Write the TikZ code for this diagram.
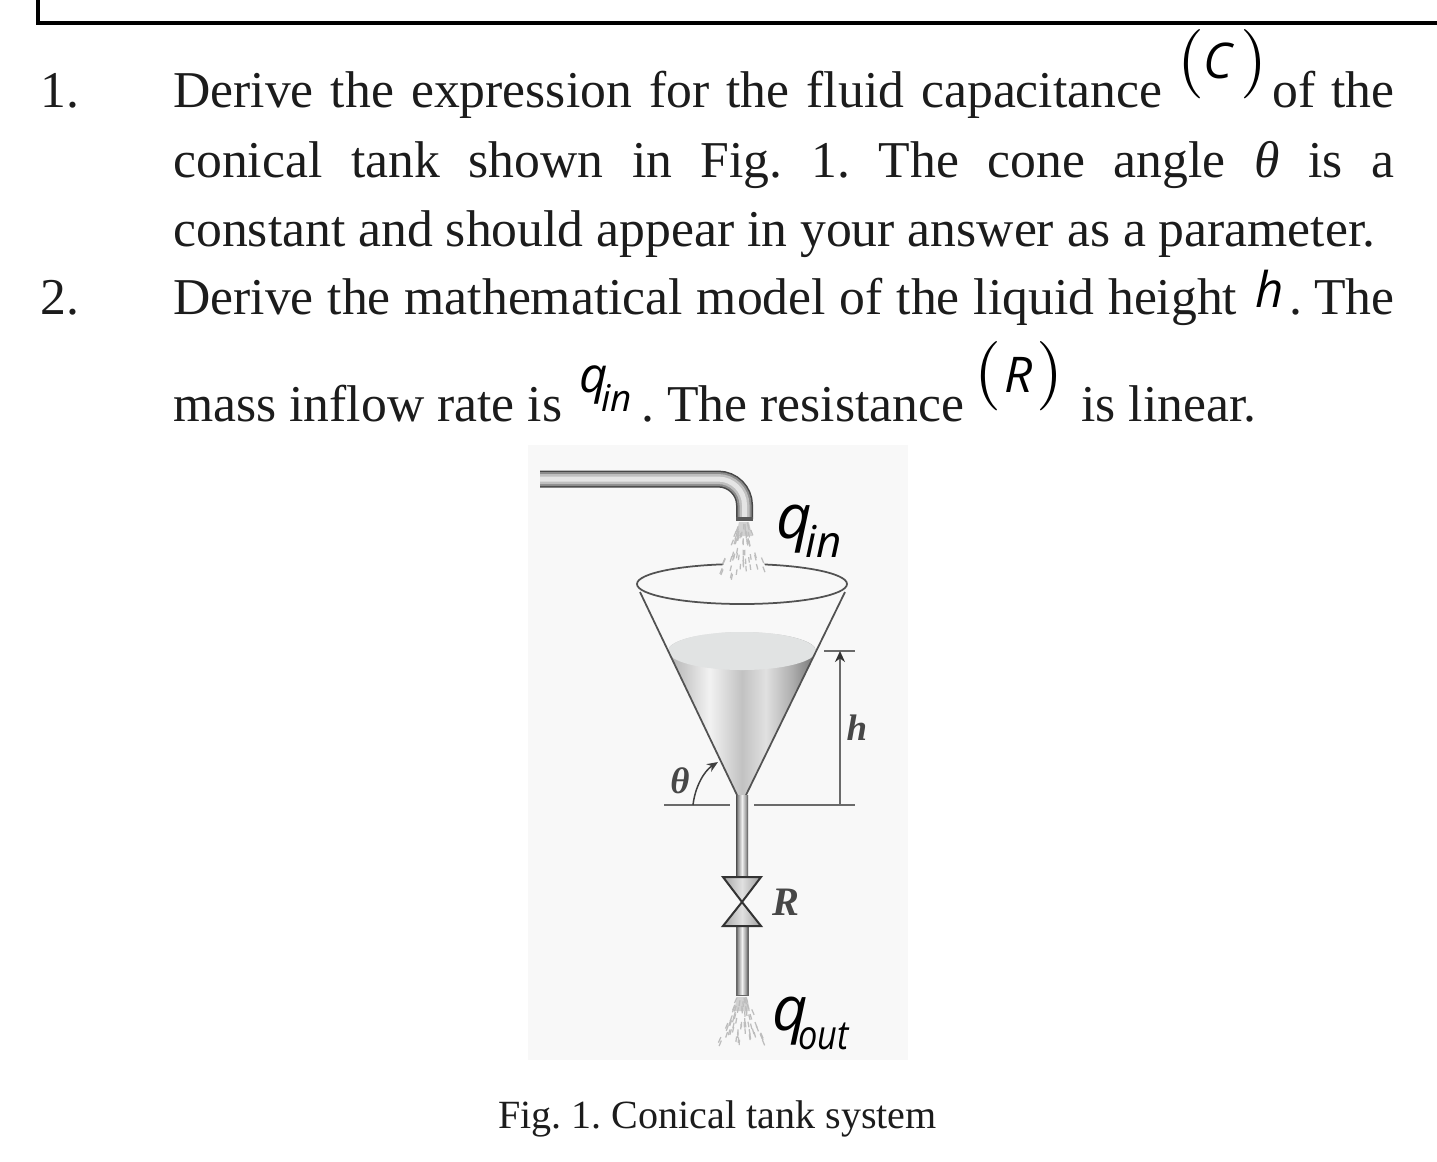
\documentclass[tikz,border=0pt]{standalone}
\usepackage{fontspec}
\setmainfont{Liberation Serif}
\newfontfamily\symfont{Open Sans}
\usetikzlibrary{arrows.meta}
\frenchspacing

\definecolor{inkblack}{HTML}{1C1C1C}
\definecolor{panelgray}{HTML}{F8F8F8}
\definecolor{surfacegray}{HTML}{E1E3E3}
\definecolor{dimgray}{HTML}{6A6A6A}

\pgfdeclarehorizontalshading{liquidshade}{100bp}{
  color(0bp)=(black!30); color(25bp)=(black!30); color(31bp)=(black!20);
  color(39bp)=(black!5); color(50bp)=(black!24); color(58bp)=(black!12);
  color(67bp)=(black!32); color(75bp)=(black!55); color(100bp)=(black!55)}
\pgfdeclarehorizontalshading{stemshade}{100bp}{
  color(0bp)=(black!70); color(25bp)=(black!70); color(33bp)=(black!42);
  color(50bp)=(black!6); color(66bp)=(black!38); color(75bp)=(black!70);
  color(100bp)=(black!70)}
\pgfdeclarehorizontalshading{valveshade}{100bp}{
  color(0bp)=(black!35); color(25bp)=(black!35); color(50bp)=(black!12);
  color(75bp)=(black!38); color(100bp)=(black!38)}

\newcommand{\bigparen}[1]{\resizebox{!}{1.04cm}{$#1$}}

\tikzset{
  bodytext/.style={anchor=base west, inner sep=0pt, text=inkblack,
    font=\fontsize{29.4}{34}\selectfont},
  symtext/.style={anchor=base west, inner sep=0pt, text=black,
    font=\symfont\itshape\fontsize{28}{34}\selectfont},
  bracket/.style={anchor=center, inner sep=0pt, text=black},
  subtext/.style={anchor=base west, inner sep=0pt, text=black,
    font=\symfont\itshape\fontsize{21}{24}\selectfont},
  figlabel/.style={anchor=base, inner sep=0pt, text=black!72,
    font=\bfseries\itshape\fontsize{21}{26}\selectfont},
  dimline/.style={draw=dimgray, line width=0.05cm},
  tankline/.style={draw=black!68, line width=0.035cm},
  spraydash/.style={draw=black!26, line width=0.025cm}
}

\begin{document}
\begin{tikzpicture}[x=0.02cm, y=-0.02cm]

  \useasboundingbox (0,0) rectangle (1437,1161);

  % frame corner at the top
  \draw[black, line width=0.08cm] (38,0) -- (38,23) -- (1437,23);

  % question text
  \node[bodytext] (numone) at (40,107) {1.};
  \node[bodytext] (lineonea) at (173,107) {\makebox[19.78cm][s]{Derive the expression for the fluid capacitance}};
  \node[bracket] (copen) at (1191,64) {\bigparen{(}};
  \node[symtext] (csym) at (1203,78) {C};
  \node[bracket] (cclose) at (1254,64) {\bigparen{)}};
  \node[bodytext] (lineoneb) at (1272,107) {\makebox[2.44cm][s]{of the}};
  \node[bodytext] (linetwo) at (173,177) {\makebox[24.42cm][s]{conical tank shown in Fig. 1. The cone angle \textit{θ} is a}};
  \node[bodytext] (linethree) at (173,246) {constant and should appear in your answer as a parameter.};
  \node[bodytext] (numtwo) at (40,314) {2.};
  \node[bodytext] (linefoura) at (173,314) {\makebox[21.28cm][s]{Derive the mathematical model of the liquid height}};
  \node[symtext] (hsym) at (1255,307) {h};
  \node[bodytext] (linefourb) at (1289,314) {\makebox[2.1cm][s]{. The}};
  \node[bodytext] (linefivea) at (173,421) {mass inflow rate is};
  \node[symtext] (qsym) at (579,392) {q};
  \node[subtext] (qsub) at (601,411) {in};
  \node[bodytext] (linefiveb) at (641,421) {. The resistance};
  \node[bracket] (ropen) at (988,376) {\bigparen{(}};
  \node[symtext] (rsym) at (1004,392) {R};
  \node[bracket] (rclose) at (1050,376) {\bigparen{)}};
  \node[bodytext] (linefivec) at (1081,421) {is linear.};

  % figure panel
  \fill[panelgray] (528,445) rectangle (908,1060);

  % inlet pipe
  \foreach \w/\c in {17/black!72, 14/black!45, 10/black!25, 5/black!10} {
    \draw[\c, line width=\w*0.02cm] (540,479) -- (718,479)
      .. controls (733,479) and (744.5,491) .. (744.5,505) -- (744.5,519);
  }
  \fill[black!65] (736,517) rectangle (753,521);

  % cone
  \shade[shading=liquidshade] (668,651) arc[start angle=180, end angle=360, x radius=74, y radius=19]
    -- (746,795) -- (737,795) -- cycle;
  \fill[surfacegray] (742,651) ellipse[x radius=74, y radius=19];
  \draw[tankline] (640,592) -- (737,795);
  \draw[tankline] (845,592) -- (746,795);
  \draw[tankline] (742,584) ellipse[x radius=105, y radius=20];

  % outlet pipe and valve
  \shade[shading=stemshade] (736,795) rectangle (748,877);
  \shade[shading=stemshade] (736,926) rectangle (748,995);
  \draw[black!60, line width=0.02cm] (736,926) rectangle (748,995);
  \shadedraw[shading=valveshade, draw=black!80, line width=0.04cm] (723,877) -- (761,877) -- (742,902) -- cycle;
  \shadedraw[shading=valveshade, draw=black!80, line width=0.04cm] (723,926) -- (761,926) -- (742,902) -- cycle;

  % sprays
  \pgfmathsetseed{11}
  \foreach \cx/\top/\len/\spread in {744/522/60/27, 742/997/50/23} {
    \fill[panelgray] (\cx-5,\top) -- (\cx+5,\top) -- (\cx+\spread,\top+\len) -- (\cx-\spread,\top+\len) -- cycle;
    \fill[black!18] (\cx-5,\top) -- (\cx+5,\top) -- (\cx+8,\top+14) -- (\cx-8,\top+14) -- cycle;
    \foreach \i in {1,...,60} {
      \pgfmathsetmacro{\frac}{rnd}
      \pgfmathsetmacro{\side}{2*rnd-1}
      \draw[spraydash] ({\cx+\side*(5+\frac*(\spread-5))},{\top+\frac*(\len-6)})
        -- ++({\side*2.5},5.5);
    }
  }

  % height dimension
  \coordinate (htop) at (840,651);
  \coordinate (hbase) at (840,805);
  \draw[dimline] (824,651) -- (855,651);
  \draw[dimline] (754,805) -- (855,805);
  \draw[dimline] (664,805) -- (730,805);
  \draw[dimgray, line width=0.04cm, -{Stealth[length=0.22cm, width=0.2cm, black!80]}] (hbase) -- (htop);
  \draw[black!75, line width=0.03cm, -{Stealth[length=0.22cm, width=0.18cm]}] (693,805)
    .. controls (695,787) and (704,771) .. (718,762);

  % figure labels
  \node[figlabel] (hlabel) at (857,740) {h};
  \node[figlabel] (thetalabel) at (680,793) {θ};
  \node[figlabel, font=\bfseries\itshape\fontsize{23}{26}\selectfont] (rlabel) at (786,915) {R};
  \node[symtext, font=\symfont\itshape\fontsize{35}{40}\selectfont] (qinsym) at (776,538) {q};
  \node[subtext, font=\symfont\itshape\fontsize{25}{28}\selectfont] (qinsub) at (805,557) {in};
  \node[symtext, font=\symfont\itshape\fontsize{35}{40}\selectfont] (qoutsym) at (772,1030) {q};
  \node[subtext, font=\symfont\itshape\fontsize{23}{28}\selectfont] (qoutsub) at (798,1049) {\scalebox{0.85}[1]{out}};

  % caption
  \node[bodytext, font=\fontsize{22.8}{26}\selectfont] (caption) at (498,1128) {Fig. 1. Conical tank system};

\end{tikzpicture}
\end{document}
